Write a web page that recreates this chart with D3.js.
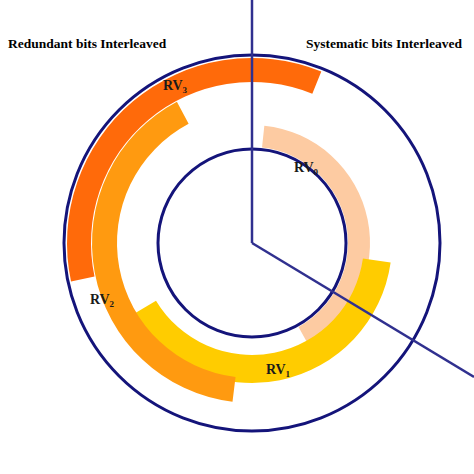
<!DOCTYPE html><html><head><meta charset="utf-8">
<script src="https://cdn.jsdelivr.net/npm/d3@7"></script>
<style>body{margin:0;background:#fff}</style></head><body>
<script>
const versions = ["0","1","2","3"];
const startPos = [6, 98, 187, 258];   // buffer position in degrees (clockwise from top)
const endPos   = [151, 239, 332, 382];
const colors = ["#FDCBA2","#FFCC00","#FF9A10","#FF6A0A"];
const titles = ["Redundant bits Interleaved","Systematic bits Interleaved"];

const W=474,H=474,cx=252,cy=243;
const svg=d3.select("body").append("svg").attr("width",W).attr("height",H);
const ang=d3.scaleLinear().domain([0,360]).range([0,2*Math.PI]);
const ring=d3.scaleOrdinal().domain(versions).range([[96,118],[112,140],[135,160],[161,185]]);
const labelPos=[[306,172],[278,374],[102,304],[175,90]];
const g=svg.append("g").attr("transform",`translate(${cx},${cy})`);
const arc=d3.arc();
versions.forEach((v,i)=>{
  const [ri,ro]=ring(v);
  g.append("path").attr("d",arc({innerRadius:ri,outerRadius:ro,startAngle:ang(startPos[i]),endAngle:ang(endPos[i])})).attr("fill",colors[i]);
});
g.append("circle").attr("r",94).attr("fill","none").attr("stroke","#14147a").attr("stroke-width",3);
g.append("circle").attr("r",188).attr("fill","none").attr("stroke","#14147a").attr("stroke-width",3);
svg.append("line").attr("x1",cx).attr("y1",cy).attr("x2",cx).attr("y2",0).attr("stroke","#30308f").attr("stroke-width",2.5);
svg.append("line").attr("x1",cx).attr("y1",cy).attr("x2",474).attr("y2",377).attr("stroke","#30308f").attr("stroke-width",2.5);
versions.forEach((v,i)=>{
  const t=svg.append("text").attr("x",labelPos[i][0]).attr("y",labelPos[i][1]).attr("text-anchor","middle")
   .attr("font-family","Liberation Serif").attr("font-weight","bold").attr("font-size",14).attr("fill","#1a1a1a");
  t.append("tspan").text("RV");
  t.append("tspan").text(v).attr("font-size",9).attr("dy",3);
});
svg.append("text").attr("x",8).attr("y",48).text(titles[0]).attr("font-family","Liberation Serif").attr("font-weight","bold").attr("font-size",13.5);
svg.append("text").attr("x",306).attr("y",48).text(titles[1]).attr("font-family","Liberation Serif").attr("font-weight","bold").attr("font-size",13.5);
</script></body></html>
